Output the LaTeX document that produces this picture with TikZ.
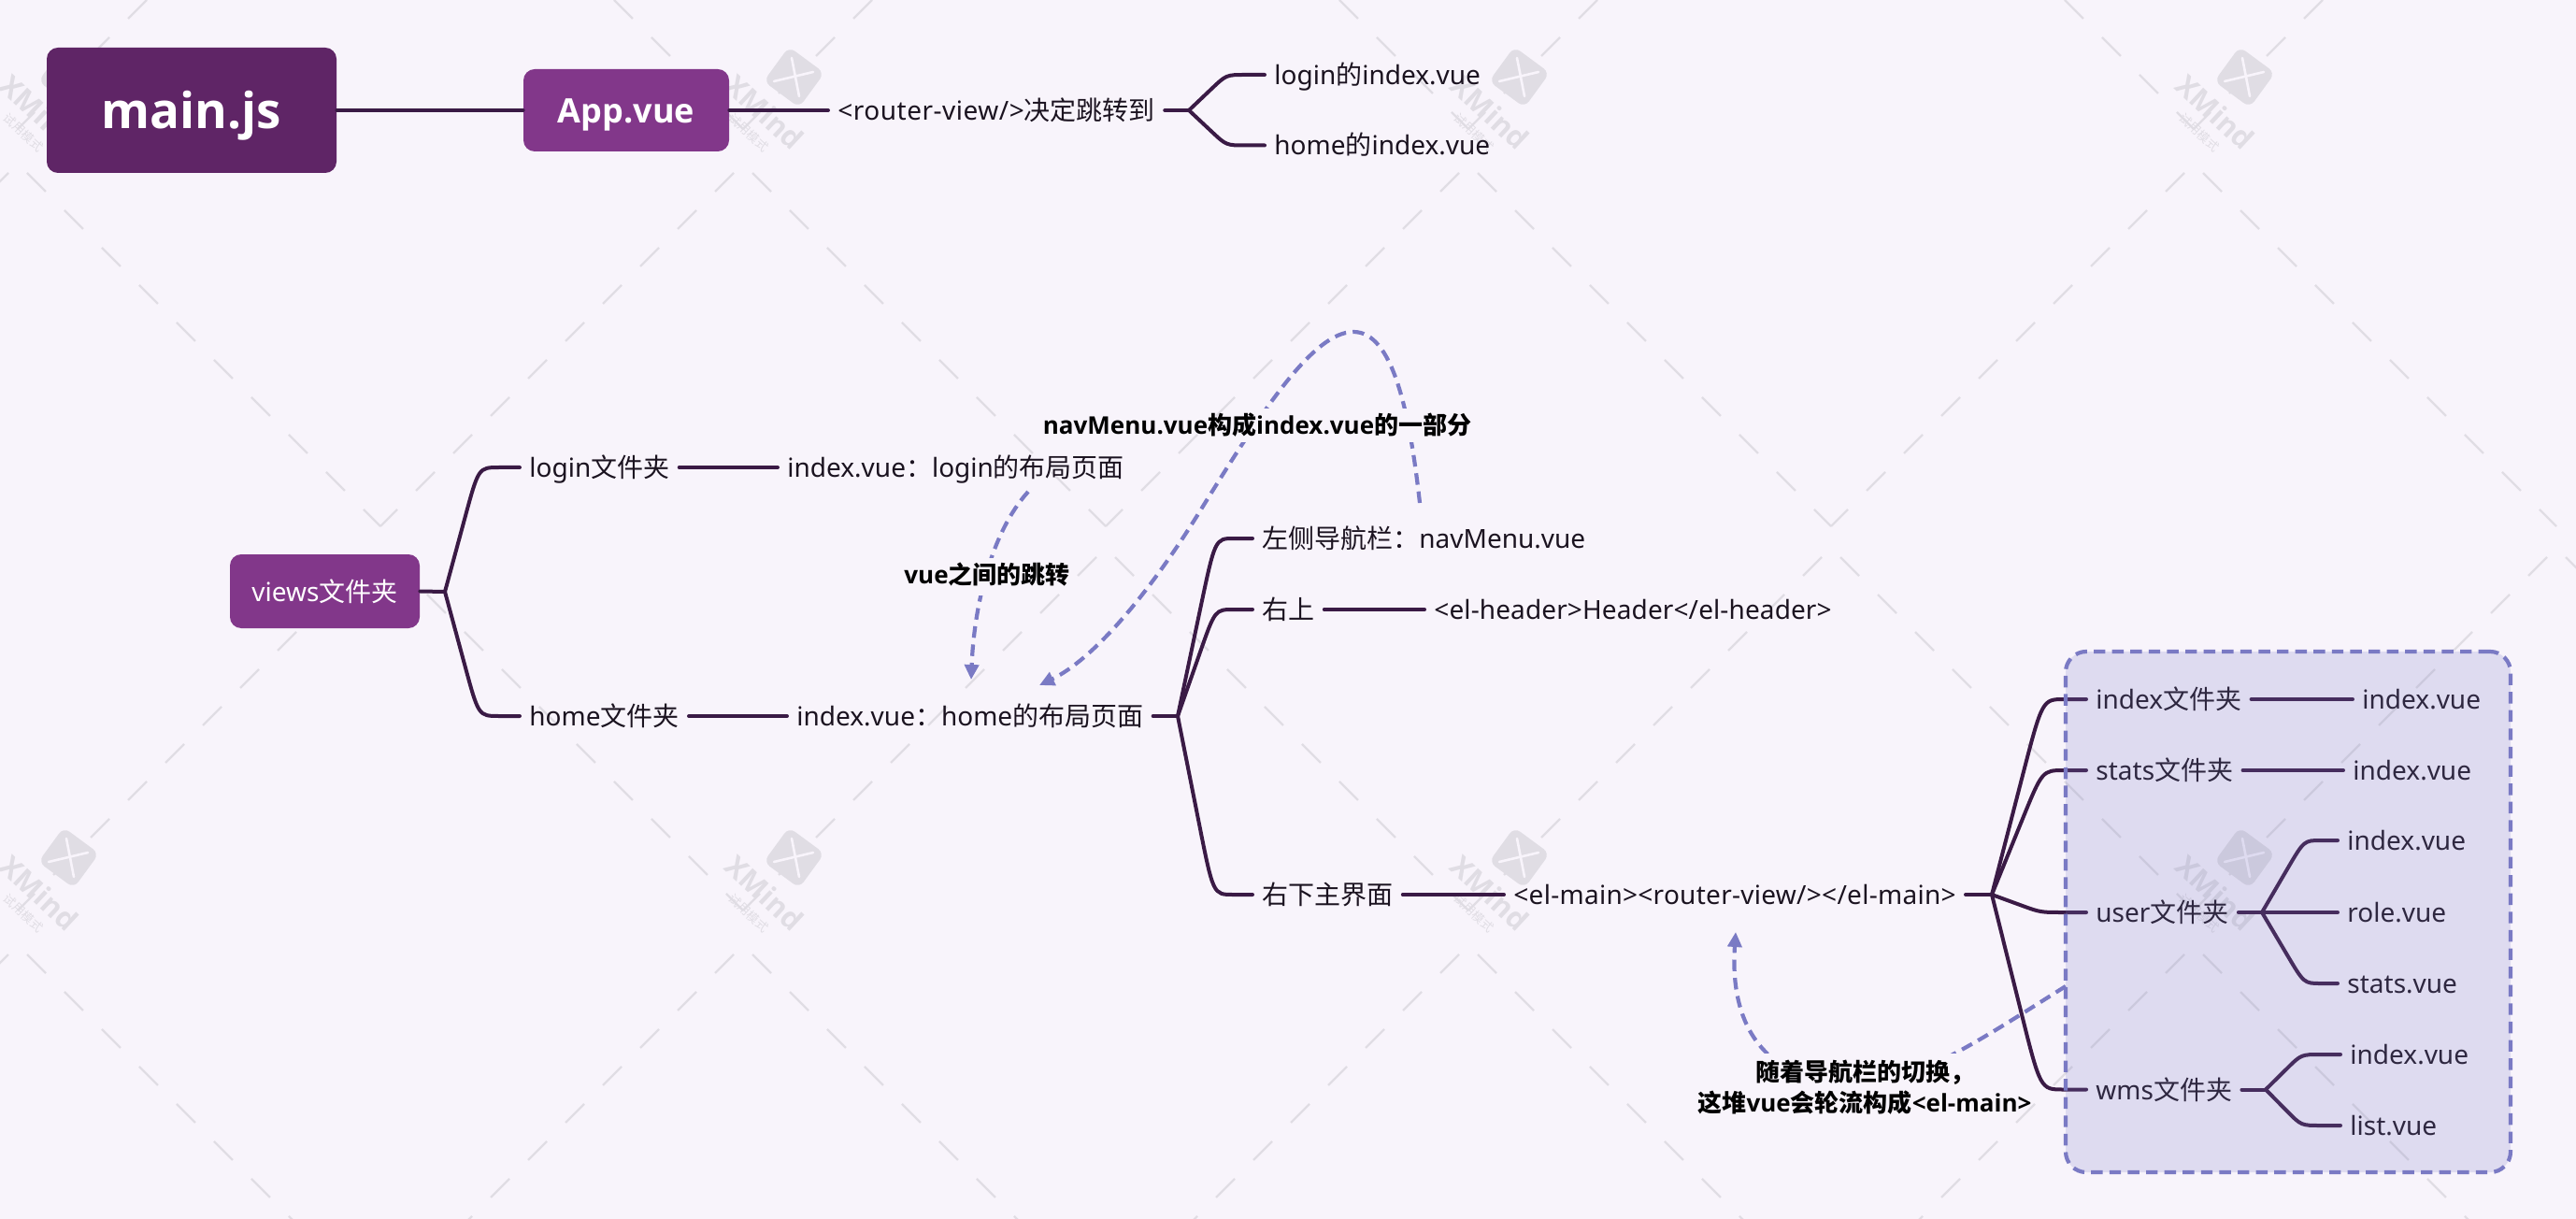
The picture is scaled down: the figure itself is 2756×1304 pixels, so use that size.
\documentclass[tikz,border=0pt]{standalone}
\usepackage{fontspec}
\usetikzlibrary{calc,arrows.meta}
\setmainfont{Noto Sans}[BoldFont={Open Sans Bold}]
\newfontfamily\cjk{Noto Sans CJK SC}
\newcommand{\z}[1]{{\cjk #1}}
\newcommand{\ls}[1]{\addfontfeature{LetterSpace=#1}}
\definecolor{bgc}{HTML}{F8F4FB}
\definecolor{deep}{HTML}{5F2566}
\definecolor{mid}{HTML}{82378A}
\definecolor{linec}{HTML}{3A1A45}
\definecolor{relc}{HTML}{7A7AC4}
\definecolor{wmc}{HTML}{E0DDE4}
\definecolor{txt}{HTML}{1B1320}
\tikzset{
  conn/.style={draw=linec,line width=2pt,line cap=round,line join=round},
  topic/.style={anchor=west,inner xsep=5pt,inner ysep=0pt,text=txt,text height=14pt,text depth=3.5pt,font=\fontsize{14pt}{17pt}\selectfont},
  solidbox/.style={rounded corners=6pt,text=white,inner sep=0pt,align=center},
  rel/.style={draw=relc,line width=2.1pt,dash pattern=on 6.2pt off 3.6pt},
  relhead/.style={-{Triangle[length=8pt,width=7.5pt,fill=relc]}},
  rellabel/.style={inner sep=0pt,text=black,align=center,font=\fontsize{13pt}{16.5pt}\selectfont\bfseries},
  wmdash/.style={draw=wmc,line width=1.2pt,dash pattern=on 14.14pt off 14.14pt},
}
\newcommand{\branch}[3]{%
  \coordinate (C) at (#3,0 |- #2.west);
  \draw[conn] (#1) -- ($(#1)!.6!(C)$) .. controls (C) .. ($(C)!.5!(#2.west)$) -- (#2.west);}
\newcommand{\wm}[3]{%
  \begin{scope}[shift={(#2,#3)}]
    \fill[wmc,rounded corners=4pt] (-6,-33) -- (32,-5) -- (5,32) -- (-33,4) -- cycle;
    \draw[bgc,line width=1.3pt,line cap=round] (-3,-21) -- (5,20);
    \draw[bgc,line width=1.3pt,line cap=round] (-22,4) -- (20,-6);
    \node[rotate=-43,text=wmc,inner sep=0pt,font=\fontsize{15.5pt}{16pt}\selectfont\bfseries] (#1x) at (-32,37) {XMind};
    \node[rotate=-43,text=wmc,inner sep=0pt,font=\fontsize{6.5pt}{7pt}\selectfont] (#1y) at (-49,59) {\z{试用模式}};
  \end{scope}}
\begin{document}
\begin{tikzpicture}[x=0.5pt,y=-0.5pt]
\useasboundingbox (0,0) rectangle (2756,1304);
\fill[bgc] (0,0) rectangle (2756,1304);

% relationship curves (under their label masks)
\coordinate (r1s) at (1100,526);
\coordinate (r1e) at (1039,727);
\coordinate (r2s) at (1519,538);
\coordinate (r2e) at (1112,733);
\coordinate (r3s) at (2210,1055);
\coordinate (r3e) at (1857,997);
\draw[rel,relhead] (r1s) .. controls (1060,570) and (1042,650) .. (r1e);
\draw[rel,relhead] (r2s) .. controls (1508,440) and (1490,355) .. (1448,355)
   .. controls (1405,355) and (1350,440) .. (1288,540)
   .. controls (1230,635) and (1170,705) .. (r2e);
\draw[rel,relhead] (r3s) .. controls (2130,1105) and (2050,1160) .. (1990,1160)
   .. controls (1890,1160) and (1850,1100) .. (r3e);
\fill[bgc] (964,597) rectangle (1148,637);
\fill[bgc] (1116,437) rectangle (1574,473);
\fill[bgc] (1813,1127) rectangle (2176,1198);

% watermark
\begin{scope}
\clip (0,0) rectangle (2756,1304);
\foreach \x/\y in {19/175,795/175,1571/175,2347/175,19/1011,795/1011,1571/1011,2347/1011,
                   407/586,1183/586,1959/586,2735/586,407/-250,1183/-250,1959/-250,2735/-250}{
  \draw[wmdash] (\x+10,\y+10) -- (\x+388,\y+388);
  \draw[wmdash] (\x-10,\y+10) -- (\x-388,\y+388);
}
\wm{wa}{74}{83}\wm{wb}{850}{83}\wm{wc}{1626}{83}\wm{wd}{2402}{83}
\wm{we}{74}{918}\wm{wf}{850}{918}\wm{wg}{1626}{918}\wm{wh}{2402}{918}
\end{scope}

% relationship labels
\node[rellabel] (l1) at (1056,615) {vue\z{之间的跳转}};
\node[rellabel] (l2) at (1345,455) {navMenu.vue\z{构成}index.vue\z{的一部分}};
\node[rellabel] (l3) at (1995,1163) {\z{随着导航栏的切换，}\\\z{这堆}vue\z{会轮流构成}<el-main>};

% solid topics
\node[solidbox,fill=deep,minimum width=155pt,minimum height=67pt,text height=26pt,text depth=6pt,font=\fontsize{26.5pt}{30pt}\selectfont\bfseries] (main) at (205,118) {main.js};
\node[solidbox,fill=mid,minimum width=110pt,minimum height=44pt,text height=19pt,text depth=5.7pt,font=\fontsize{18pt}{24pt}\selectfont\bfseries] (app) at (670,118) {App.vue};
\node[solidbox,fill=mid,minimum width=101.5pt,minimum height=39.5pt,text height=14pt,text depth=3.5pt,font=\fontsize{14pt}{17pt}\selectfont] (views) at (347.5,632.5) {views\z{文件夹}};

% top row
\node[topic] (rv) at (886,118) {\ls{1.8}<router-view/>\z{决定跳转到}};
\node[topic] (li) at (1353,80) {login\z{的}index.vue};
\node[topic] (hi) at (1353,155.5) {home\z{的}index.vue};
\coordinate (f0) at (1272,118);
\draw[conn] (main.east) -- (app.west);
\draw[conn] (app.east) -- (rv.west);
\draw[conn] (rv.east) -- (f0);
\branch{f0}{li}{1312}
\branch{f0}{hi}{1312}

% views
\node[topic] (lf) at (556,500) {login\z{文件夹}};
\node[topic] (lv) at (832,500) {index.vue\z{：}login\z{的布局页面}};
\node[topic] (hf) at (556,766) {home\z{文件夹}};
\node[topic] (hv) at (842,766) {index.vue\z{：}home\z{的布局页面}};
\coordinate (f1) at (476,633);
\coordinate (f2) at (1260,766);
\draw[conn] (views.east) -- (f1);
\branch{f1}{lf}{512}
\branch{f1}{hf}{512}
\draw[conn] (lf.east) -- (lv.west);
\draw[conn] (hf.east) -- (hv.west);
\draw[conn] (hv.east) -- (f2);

% home layout
\node[topic] (nav) at (1340,576) {\z{左侧导航栏：}navMenu.vue};
\node[topic] (ru) at (1340,652) {\z{右上}};
\node[topic] (hd) at (1524,652) {\ls{0.4}<el-header>Header</el-header>};
\node[topic] (rd) at (1340,957) {\z{右下主界面}};
\node[topic] (mn) at (1609,957) {\ls{1.0}<el-main><router-view/></el-main>};
\coordinate (f3) at (2131,957);
\branch{f2}{nav}{1300}
\branch{f2}{ru}{1300}
\branch{f2}{rd}{1298}
\draw[conn] (ru.east) -- (hd.west);
\draw[conn] (rd.east) -- (mn.west);
\draw[conn] (mn.east) -- (f3);

% folders
\node[topic] (fi) at (2232,748) {index\z{文件夹}};
\node[topic] (fs) at (2232,824) {stats\z{文件夹}};
\node[topic] (fu) at (2232,976) {user\z{文件夹}};
\node[topic] (fw) at (2232,1165.5) {wms\z{文件夹}};
\node[topic] (fiv) at (2517,748) {index.vue};
\node[topic] (fsv) at (2507,824) {index.vue};
\node[topic] (u1) at (2501,899) {index.vue};
\node[topic] (u2) at (2501,976) {role.vue};
\node[topic] (u3) at (2501,1052) {stats.vue};
\node[topic] (w1) at (2504,1128) {index.vue};
\node[topic] (w2) at (2504,1204) {list.vue};
\coordinate (f4) at (2420,976);
\coordinate (f5) at (2424,1165.5);
\branch{f3}{fi}{2185}
\branch{f3}{fs}{2185}
\branch{f3}{fu}{2183}
\branch{f3}{fw}{2183}
\draw[conn] (fi.east) -- (fiv.west);
\draw[conn] (fs.east) -- (fsv.west);
\draw[conn] (fu.east) -- (f4);
\draw[conn] (fw.east) -- (f5);
\branch{f4}{u1}{2465}
\draw[conn] (f4) -- (u2.west);
\branch{f4}{u3}{2465}
\branch{f5}{w1}{2462}
\branch{f5}{w2}{2462}

% translucent summary box on top
\node[rel,fill=relc,fill opacity=0.2,draw opacity=1,rounded corners=11pt,minimum width=238pt,minimum height=278.5pt,inner sep=0pt] (group) at (2448,975.5) {};
\end{tikzpicture}
\end{document}
